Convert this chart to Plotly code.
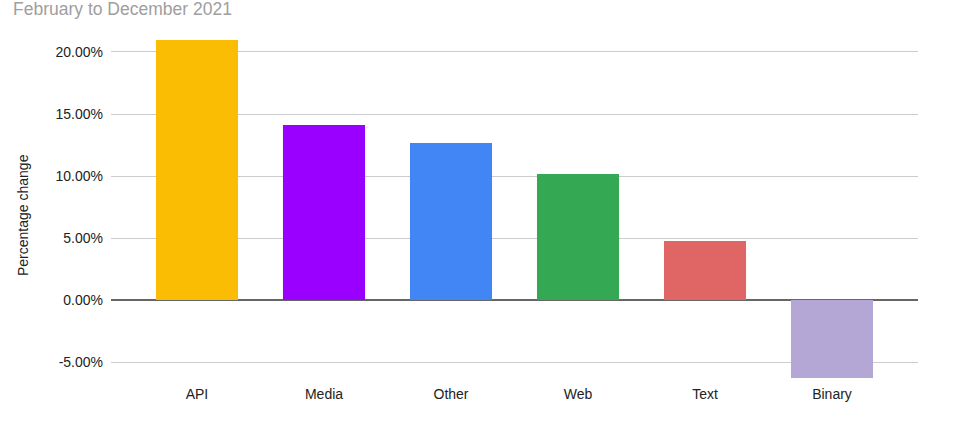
import plotly.graph_objects as go

categories = ["API", "Media", "Other", "Web", "Text", "Binary"]
values = [0.2097, 0.1411, 0.1266, 0.1016, 0.0476, -0.0629]
colors = ["#FBBC04", "#9900FF", "#4285F4", "#34A853", "#E06666", "#B4A7D6"]
tick_vals = [-0.05, 0.0, 0.05, 0.10, 0.15, 0.20]
tick_text = ["-5.00%", "0.00%", "5.00%", "10.00%", "15.00%", "20.00%"]

fig = go.Figure()
fig.add_trace(go.Bar(
    x=categories, y=values, marker=dict(color=colors, line=dict(width=0)),
    width=0.646, hoverinfo="x+y",
))

font = "Liberation Sans, Arial, sans-serif"
L, R, T, B = 111, 59, 35, 45
PW, PH = 977 - L - R, 425 - T - B
fig.update_layout(
    width=977, height=425,
    margin=dict(l=L, r=R, t=T, b=B),
    paper_bgcolor="white", plot_bgcolor="white",
    font=dict(family=font, size=14, color="#222222"),
    showlegend=False,
    title=dict(text="February to December 2021", x=13 / 977, xref="container", xanchor="left",
               y=1 - 3 / 425, yref="container", yanchor="top",
               font=dict(size=17.5, color="#9e9e9e", family=font)),
    xaxis=dict(range=[-0.677, 5.677], showgrid=False, showline=False, zeroline=False,
               ticks="", ticklabelstandoff=4, tickfont=dict(size=14, color="#222222")),
    yaxis=dict(range=[-0.0645, 0.2137], tickvals=tick_vals, ticktext=tick_text,
               showgrid=True, gridcolor="#cccccc", gridwidth=1,
               zeroline=True, zerolinecolor="#666666", zerolinewidth=1.5,
               showline=False, ticks="", ticklabelstandoff=7,
               tickfont=dict(size=14, color="#222222")),
    annotations=[dict(text="Percentage change", textangle=-90, xref="paper", yref="paper",
                      x=(23 - L) / PW, y=(425 - B - 215) / PH,
                      xanchor="center", yanchor="middle", showarrow=False,
                      font=dict(size=14, color="#222222", family=font))],
)

fig.write_html("out.html", config={"displayModeBar": False},
               post_script="document.body.style.margin='0';document.body.style.overflow='hidden';")
